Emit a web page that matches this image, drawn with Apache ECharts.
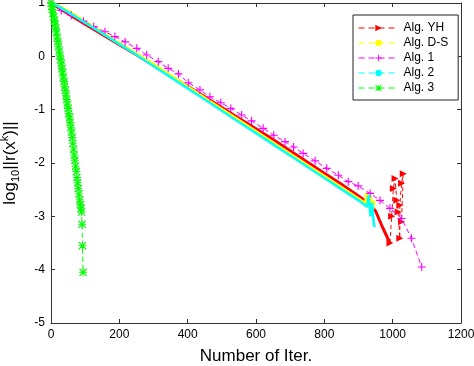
<!DOCTYPE html>
<html>
<head>
<meta charset="utf-8">
<script src="https://cdn.jsdelivr.net/npm/echarts@6/dist/echarts.min.js"></script>
<style>html,body{margin:0;padding:0;background:#fff}#c{width:474px;height:366px}</style>
</head>
<body>
<div id="c"></div>
<script>
// ---- data ----
const legendNames = ['Alg. YH', 'Alg. D-S', 'Alg. 1', 'Alg. 2', 'Alg. 3'];

const yhIter = [0,20,50,100,150,200,250,300,350,400,450,500,550,600,650,700,750,800,850,900,930,950,970,992];
const yhVal  = [1.0,0.92,0.8,0.6,0.41,0.22,0.03,-0.17,-0.37,-0.56,-0.76,-0.96,-1.16,-1.36,-1.56,-1.77,-1.98,-2.19,-2.4,-2.62,-2.76,-2.9,-3.2,-3.5];
const yhTailIter = [992,997,1002,1007,1012,1016,1021,1021,1026,1031,1026];
const yhTailVal  = [-3.5,-3.0,-2.48,-2.29,-2.7,-2.92,-3.41,-2.79,-2.38,-2.2,-3.1];

const dsIter = [0,20,50,100,150,200,250,300,350,400,450,500,550,600,650,700,750,800,850,900,920,925,930,935,940,945];
const dsVal  = [1.0,0.95,0.85,0.65,0.45,0.25,0.05,-0.15,-0.36,-0.57,-0.78,-0.99,-1.2,-1.41,-1.62,-1.83,-2.04,-2.25,-2.46,-2.67,-2.76,-2.55,-2.85,-2.62,-2.95,-2.7];

const a1Iter = [0,30,60,95,125,158,187,217,251,280,314,343,373,402,436,465,497,526,558,587,621,652,685,710,738,773,807,841,870,899,934,963,992,1026,1055,1085];
const a1Val  = [1.0,0.86,0.77,0.66,0.56,0.46,0.37,0.27,0.15,0.025,-0.1,-0.225,-0.33,-0.495,-0.63,-0.758,-0.87,-0.976,-1.1,-1.21,-1.35,-1.48,-1.6,-1.7,-1.82,-1.96,-2.1,-2.23,-2.35,-2.43,-2.57,-2.7,-2.85,-3.04,-3.41,-3.95];

const a2Iter = [0,20,50,100,150,200,250,300,350,400,450,500,550,600,650,700,750,800,850,900,925,930,935,940,945,948];
const a2Val  = [1.0,0.94,0.83,0.63,0.43,0.23,0.03,-0.18,-0.39,-0.6,-0.81,-1.02,-1.23,-1.44,-1.65,-1.86,-2.07,-2.28,-2.49,-2.7,-2.82,-2.6,-3.0,-2.75,-3.16,-3.2];

const a3Iter = [0,2,4,6,8,10,12,14,16,18,20,22,24,26,28,30,32,34,36,38,40,42,44,46,48,50,52,54,56,58,60,62,64,66,68,70,72,74,76,78,80,82,84,86,88,89,91,92,94];
const a3Val  = [1.0,0.94,0.88,0.81,0.74,0.67,0.6,0.52,0.44,0.36,0.28,0.19,0.1,0.02,-0.06,-0.14,-0.23,-0.31,-0.39,-0.47,-0.56,-0.64,-0.73,-0.81,-0.9,-0.98,-1.07,-1.15,-1.24,-1.33,-1.42,-1.52,-1.63,-1.74,-1.85,-1.95,-2.06,-2.16,-2.27,-2.37,-2.48,-2.58,-2.69,-2.78,-2.86,-2.92,-3.15,-3.55,-4.05];

const xMin = 0, xMax = 1200, xStep = 200;
const yMin = -5, yMax = 1, yStep = 1;

// ---- helpers ----
const zip = (a, b) => a.map((v, i) => [v, b[i]]);
const TRI = 'path://M0,0L10,5L0,10Z';
const PLUS = 'path://M4.3,0H5.7V4.3H10V5.7H5.7V10H4.3V5.7H0V4.3H4.3Z';
const STAR = 'path://M4.4,0H5.6V4.4H10V5.6H5.6V10H4.4V5.6H0V4.4H4.4Z M1,0L10,9L9,10L0,1Z M9,0L10,1L1,10L0,9Z';

const RED = '#ff0000', YEL = '#ffff00', MAG = '#ff00ff', CYA = '#00ffff', GRN = '#00ff00';
const FONT = 'Liberation Sans, Arial, sans-serif';

const axisCommon = {
  axisLine: {show: true, onZero: false, lineStyle: {color: '#333', width: 1}},
  axisTick: {show: true, inside: true, length: 4, lineStyle: {color: '#333'}},
  splitLine: {show: false}
};

const chart = echarts.init(document.getElementById('c'), null, {renderer: 'canvas'});
chart.setOption({
  animation: false,
  backgroundColor: '#fff',
  grid: {left: 51, right: 13, top: 3, bottom: 43, containLabel: false, outerBoundsMode: 'none'},
  xAxis: [
    Object.assign({}, axisCommon, {
      type: 'value', min: xMin, max: xMax, interval: xStep, position: 'bottom',
      axisLabel: {color: '#000', fontSize: 12, fontFamily: FONT, margin: 6, formatter: v => String(v)},
      name: 'Number of Iter.', nameLocation: 'middle', nameGap: 25,
      nameTextStyle: {color: '#000', fontSize: 17, fontFamily: FONT}
    }),
    Object.assign({}, axisCommon, {
      type: 'value', min: xMin, max: xMax, interval: xStep, position: 'top',
      axisLabel: {show: false}
    })
  ],
  yAxis: [
    Object.assign({}, axisCommon, {
      type: 'value', min: yMin, max: yMax, interval: yStep, position: 'left',
      axisLabel: {color: '#000', fontSize: 12, fontFamily: FONT, margin: 6},
      name: '{a|log}{b|10}{a|||r(x}{c|k}{a|)||}',
      nameLocation: 'middle', nameGap: 30, nameRotate: 90,
      nameTextStyle: {
        color: '#000', fontFamily: FONT,
        rich: {
          a: {fontSize: 17, fontFamily: FONT, color: '#000', lineHeight: 22},
          b: {fontSize: 11, fontFamily: FONT, color: '#000', lineHeight: 12, verticalAlign: 'bottom'},
          c: {fontSize: 11, fontFamily: FONT, color: '#000', lineHeight: 12, verticalAlign: 'top'}
        }
      }
    }),
    Object.assign({}, axisCommon, {
      type: 'value', min: yMin, max: yMax, interval: yStep, position: 'right',
      axisLabel: {show: false}
    })
  ],
  legend: {
    orient: 'vertical', left: 353, top: 15,
    backgroundColor: '#fff', borderColor: '#222', borderWidth: 1,
    padding: [7, 10, 6, 5], itemWidth: 40, itemHeight: 8, itemGap: 3,
    textStyle: {color: '#000', fontSize: 12, fontFamily: FONT},
    data: [
      {name: legendNames[0], lineStyle: {type: [6, 4], width: 1}},
      {name: legendNames[1], lineStyle: {type: [6, 4], width: 1}},
      {name: legendNames[2], lineStyle: {type: [6, 4], width: 1}},
      {name: legendNames[3], lineStyle: {type: [6, 4], width: 1}},
      {name: legendNames[4], lineStyle: {type: [6, 4], width: 1}}
    ]
  },
  series: [
    {
      name: legendNames[0], type: 'line', xAxisIndex: 0, yAxisIndex: 0,
      data: zip(yhIter, yhVal), symbol: TRI, symbolSize: 7, showSymbol: false,
      itemStyle: {color: RED}, lineStyle: {color: RED, width: 3}, z: 2
    },
    {
      name: 'YH-tail', type: 'line', data: zip(yhTailIter, yhTailVal),
      symbol: TRI, symbolSize: 7, showSymbol: true,
      itemStyle: {color: RED}, lineStyle: {color: RED, width: 1, type: [4, 3]}, z: 2
    },
    {
      name: legendNames[1], type: 'line', data: zip(dsIter, dsVal),
      symbol: 'circle', symbolSize: 4, showSymbol: false,
      itemStyle: {color: YEL}, lineStyle: {color: YEL, width: 3}, z: 3
    },
    {
      name: legendNames[2], type: 'line', data: zip(a1Iter, a1Val),
      symbol: PLUS, symbolSize: 8, showSymbol: true,
      itemStyle: {color: MAG}, lineStyle: {color: MAG, width: 1, type: [5, 3]}, z: 4
    },
    {
      name: legendNames[3], type: 'line', data: zip(a2Iter, a2Val),
      symbol: 'circle', symbolSize: 3, showSymbol: false,
      itemStyle: {color: CYA}, lineStyle: {color: CYA, width: 2.5}, z: 5
    },
    {
      name: legendNames[4], type: 'line', data: zip(a3Iter, a3Val),
      symbol: STAR, symbolSize: 8, showSymbol: true,
      itemStyle: {color: GRN}, lineStyle: {color: GRN, width: 1, type: [5, 3]}, z: 6
    }
  ]
});
</script>
</body>
</html>
